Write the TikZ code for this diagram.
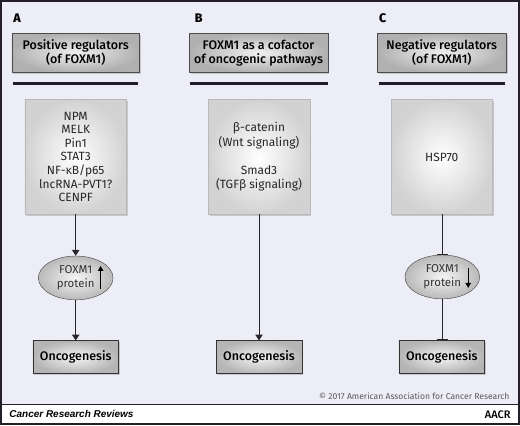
\documentclass[tikz,border=0pt]{standalone}
\usepackage{fontspec}
\setmainfont{Fira Sans}
\newfontfamily\hdfont{Fira Sans Medium}
\newfontfamily\footfont{Liberation Sans}
\usetikzlibrary{shapes.geometric,shadows,arrows.meta}
\definecolor{panelbg}{HTML}{EDEDF7}
\definecolor{frame}{HTML}{241E28}
\tikzset{
  shade/.style={drop shadow={shadow xshift=1.5pt,shadow yshift=-1.5pt,opacity=0.35}},
  header/.style={rectangle,draw=black!70,inner color=gray!12,outer color=gray!62,
    minimum height=39pt,align=center,shade,
    font=\hdfont\fontsize{12.5}{14}\selectfont},
  factors/.style={rectangle,draw=gray!55,inner color=white,outer color=gray!35,
    minimum width=102pt,minimum height=115pt,align=center,shade,
    font=\fontsize{12}{13.6}\selectfont,text=black!85},
  protein/.style={ellipse,draw=black!75,inner color=gray!8,outer color=gray!55,
    minimum width=75pt,minimum height=44pt,inner sep=0pt,align=center,
    font=\fontsize{11.5}{14}\selectfont,text=black!80},
  outcome/.style={rectangle,draw=black!80,inner color=gray!8,outer color=gray!58,
    minimum width=86pt,minimum height=33pt,shade,
    font=\hdfont\fontsize{12.5}{14}\selectfont},
  panel/.style={font=\hdfont\bfseries\fontsize{12.5}{13}\selectfont,anchor=west},
  activ/.style={draw=black!85,line width=1pt,-{Triangle[length=6pt,width=7.5pt]}},
  inhib/.style={draw=black!85,line width=1pt,-{Bar[width=11pt,line width=1pt]}},
  updown/.style={draw=black,line width=1.1pt,-{Triangle[length=5pt,width=5.5pt]}}
}
\begin{document}
\begin{tikzpicture}[x=1pt,y=-1pt]
  % panel, footer and frame
  \fill[panelbg] (0,0) rectangle (520,405);
  \fill[white] (0,405) rectangle (520,425);
  \draw[frame,line width=0.8pt] (0,405) -- (520,405);
  \draw[frame,line width=2pt] (0,0) rectangle (520,425);

  % panel letters
  \node[panel] (letA) at (9,17) {A};
  \node[panel] (letB) at (191,17) {B};
  \node[panel] (letC) at (376,17) {C};

  % headers and bars under them
  \node[header,minimum width=128pt] (hdA) at (75,52) {Positive regulators\\(of FOXM1)};
  \node[header,minimum width=139pt] (hdB) at (258.5,52) {FOXM1 as a cofactor\\of oncogenic pathways};
  \node[header,minimum width=129pt] (hdC) at (442.5,52) {Negative regulators\\(of FOXM1)};
  \foreach \x/\w in {75/63,259/69,442.5/63.5}{% one bar per column
    \draw[frame,line width=3pt] (\x-\w,83) -- (\x+\w,83);
  }

  % boxes of factors
  \node[factors] (facA) at (75,156.5) {NPM\\MELK\\Pin1\\STAT3\\NF-κB/p65\\lncRNA-PVT1?\\CENPF};
  \node[factors,font=\fontsize{12}{14.5}\selectfont] (facB) at (259,156.5)
    {β-catenin\\(Wnt signaling)\\[14pt]Smad3\\(TGFβ signaling)};
  \node[factors] (facC) at (442.5,156.5) {HSP70};

  % FOXM1 protein
  \node[protein] (protA) at (75,278) {FOXM1\\protein};
  \node[protein] (protC) at (443,277) {FOXM1\\protein};
  \draw[updown] ([xshift=25pt,yshift=-11pt]protA.center) -- ([xshift=25pt,yshift=12pt]protA.center);
  \draw[updown] ([xshift=26pt,yshift=9pt]protC.center) -- ([xshift=26pt,yshift=-11pt]protC.center);

  % oncogenesis
  \node[outcome] (oncA) at (75,357.5) {Oncogenesis};
  \node[outcome] (oncB) at (259,357.5) {Oncogenesis};
  \node[outcome] (oncC) at (442.5,357.5) {Oncogenesis};

  % connectors
  \draw[activ] (facA) -- (protA);
  \draw[activ] (protA) -- (oncA);
  \draw[activ] (facB) -- (oncB);
  \draw[inhib] (facC.south -| protC) -- (protC);
  \draw[inhib] (protC) -- (oncC.north -| protC);

  % credits
  \node[anchor=east,text=black!65,font=\fontsize{8.6}{10}\selectfont] (copy) at (514,397)
    {© 2017 American Association for Cancer Research};
  \node[anchor=west,font=\footfont\bfseries\itshape\fontsize{10}{11}\selectfont] (journal) at (5,415)
    {Cancer Research Reviews};
  \node[anchor=east,font=\hdfont\fontsize{11}{12}\selectfont] (aacr) at (515,415) {AACR};
\end{tikzpicture}
\end{document}
